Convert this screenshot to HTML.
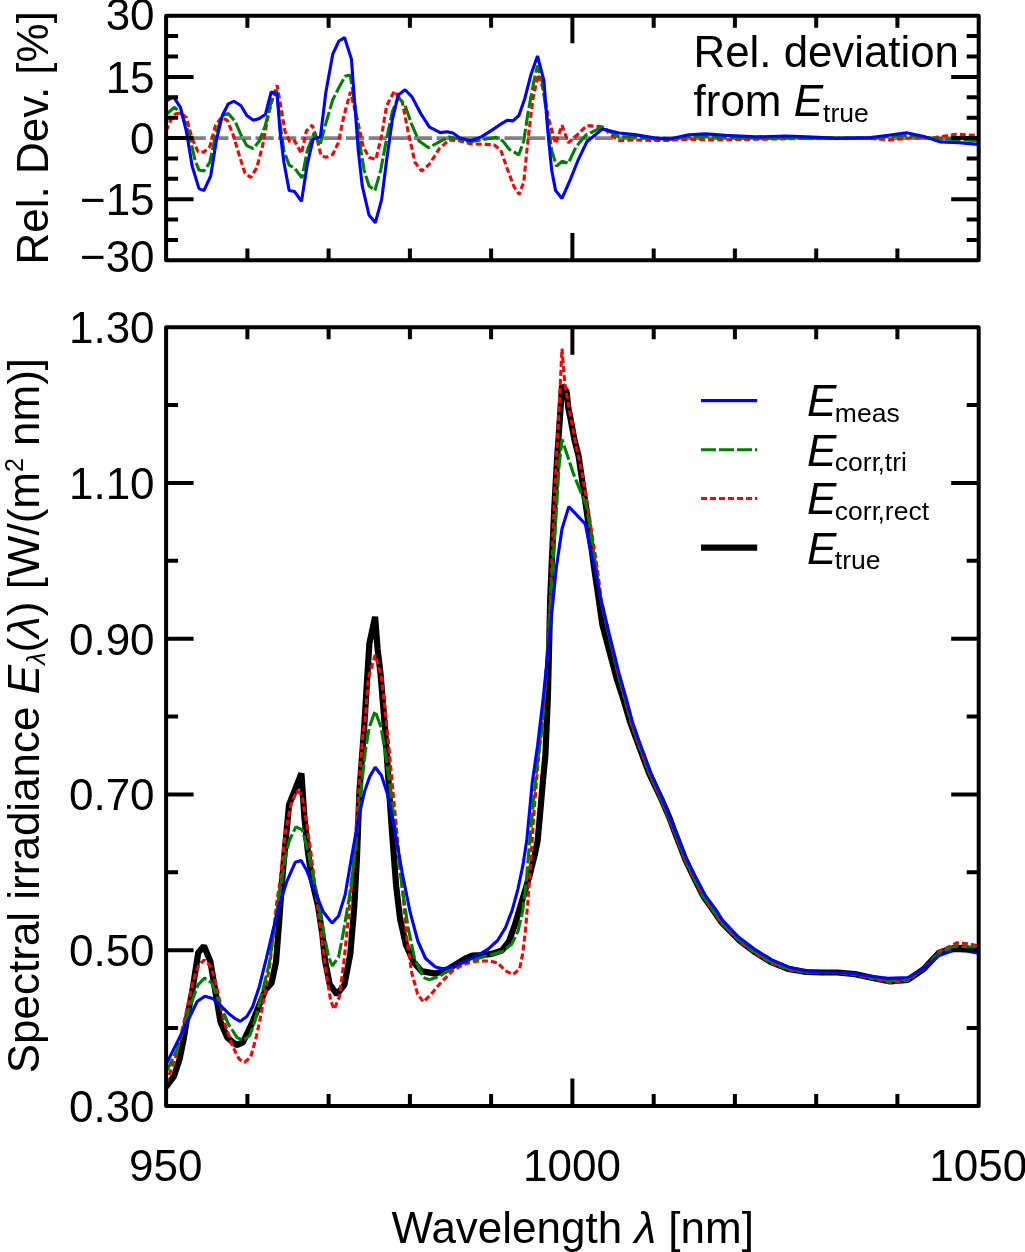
<!DOCTYPE html>
<html lang="en"><head><meta charset="utf-8"><title>Spectral irradiance and relative deviation</title>
<style>html,body{margin:0;padding:0;background:#fff}svg{display:block}text{font-family:"Liberation Sans", Arial, Helvetica, sans-serif;fill:#000}</style>
</head><body>
<svg width="1025" height="1252" viewBox="0 0 1025 1252">
<rect x="0" y="0" width="1025" height="1252" fill="#fff"/>
<defs>
<clipPath id="ct"><rect x="166.1" y="15.75" width="812.6" height="244.64999999999998"/></clipPath>
<clipPath id="cb"><rect x="166.1" y="327.2" width="812.6" height="778.7"/></clipPath>
</defs>
<g clip-path="url(#ct)" fill="none" stroke-linejoin="bevel">
<path d="M165 138.1 H978.7" stroke="#808080" stroke-width="3.8" stroke-dasharray="18.2 4.43"/>
<path d="M166.1 131 L170.5 120.5 L175.2 114 L180.5 112.8 L186.3 117.4 L192.2 138.9 L198 151.6 L203.9 152.1 L209.8 146.7 L215.6 125.2 L221.5 117.4 L227.3 120.3 L233.2 135 L239 154.5 L244.9 173 L250.7 177.5 L256.6 168.1 L262.4 146.7 L268.3 115.5 L273.2 96 L277.1 85.2 L281 107.7 L284.9 131.1 L289.8 141.8 L294.6 140.8 L301.5 153.5 L306.3 131.1 L312.2 125.2 L317.1 138.9 L321 155.5 L325.9 157.4 L332.7 154.5 L338.3 142.8 L344 115.5 L350.4 92 L357.3 119.4 L363.2 146.7 L369 157.4 L375.9 159.4 L381.7 135 L386.6 105.7 L394.4 91.1 L402.2 101.8 L408 131.1 L414.9 162.3 L421.7 171.1 L429.5 164.2 L439.3 148.6 L449 139.9 L458.8 140.8 L470.5 143.8 L482.2 144.3 L493.9 144.7 L500.7 150 L507.2 168.6 L513.9 186.5 L519.2 194.5 L523.8 181.8 L527.1 147.9 L530.5 118 L533.2 97.9 L538 74.5 L542.9 88.1 L548.8 119.4 L555.6 143.8 L562 125.2 L568.3 142.8 L577.1 135 L586.8 125.6 L602.4 126.8 L611.2 135 L619 140.8 L634.6 139.9 L654.1 140.4 L669.8 140.4 L687.3 139.2 L710 139.9 L755.6 139.3 L807 138.4 L870.6 138.4 L889.2 139.9 L910.7 138 L936.1 137.4 L956.4 134.2 L978.6 135.5" stroke="#ff0000" stroke-width="3.1" stroke-dasharray="6 3"/>
<path d="M166.1 114.5 L174.6 107.3 L181.5 113.5 L189.3 135 L195.1 160.3 L199 170.1 L203.9 171.1 L209.8 162.3 L215.6 135 L222.4 115.5 L228.3 113.5 L235.1 121.3 L241 135 L246.8 145.7 L253.3 148.6 L259.5 140.8 L265.4 125.2 L271.2 101.8 L276.7 90.1 L280 123.3 L283.9 150.6 L289.2 165.2 L294.6 168.1 L302 177.9 L307.3 150.6 L314.1 133 L320 144.7 L325.9 123.3 L332.7 99.9 L338.7 88 L345 76.2 L350.2 74.9 L354.6 101.8 L359.3 140.8 L364.1 170.1 L369 185.7 L374.9 190.6 L380.7 170.1 L386.6 138.9 L392.4 111.6 L398.3 96.9 L405.1 105.7 L412 125.2 L418.8 140.8 L428.5 147.7 L439.3 141.8 L449 136.9 L458.8 138.9 L470.5 141.8 L481.2 139.9 L495.9 137.3 L502.7 140.9 L509.5 149.5 L518.8 154.9 L523.8 140.8 L528.2 111.6 L534.1 80.3 L537.5 65.7 L542 80.3 L546.8 115.5 L551.7 150.6 L556.6 166.2 L562 161.3 L568.3 163.3 L576.1 146.7 L585.9 135 L602.4 127.2 L619 136.9 L634.6 136.9 L654.1 138.9 L669.8 139.3 L687.3 136.5 L710 136.9 L755.6 138.2 L807 137.8 L870.6 138 L906.3 135.5 L925 137.2 L941.2 138.7 L978.6 140.6" stroke="#008000" stroke-width="3.1" stroke-dasharray="15 3"/>
<path d="M166.1 100.8 L173.7 96.9 L180.5 107.7 L186.3 131.1 L192.2 166.2 L199 188.6 L203.9 190.6 L210.7 176 L216.6 138.9 L222.4 115.5 L228.3 103.8 L234.1 101.2 L241 105.7 L246.8 115.5 L253.3 120.3 L259.5 118.4 L265.4 114.5 L271.2 92 L277.1 94 L280 131.1 L283.9 162.3 L289.2 190.6 L294.6 191.6 L301.5 201.3 L307.3 164.2 L313.2 138.9 L320.4 136.9 L325.9 92 L332.8 54 L338.7 41.3 L344.5 37.6 L351.4 58.9 L354.6 101.8 L358.3 150.6 L362.2 185.7 L369 215 L375.3 222.8 L381.7 199.4 L386.6 160.3 L392.4 119.4 L398.3 95 L405.1 89.7 L412 96.9 L420.7 113.5 L429.5 127.2 L440.2 132.6 L447.1 131.7 L452.9 133 L459.8 137.9 L470.5 140.8 L481.2 136.9 L492 130.1 L500.7 124.2 L507.2 120.3 L513 120.9 L518.9 115.5 L524.7 98.9 L531 74.5 L537.5 56 L543.9 80.3 L547.8 131.1 L551.7 170.1 L555.6 190.6 L562 198.4 L570.2 179.9 L578 160.3 L586.8 141.8 L602.4 129.1 L619 133 L634.6 134.6 L654.1 137.9 L669.8 138.9 L689 134.8 L705.7 133.9 L725.4 135.4 L755.6 136.9 L785.9 136 L807 136.9 L837.3 138.4 L870.6 137.6 L888.7 135.2 L906.5 132.8 L924 136.5 L940 141.9 L958.6 142.6 L978.6 144.4" stroke="#0000ff" stroke-width="3.1"/>
</g>
<g clip-path="url(#cb)" fill="none" stroke-linejoin="bevel">
<path d="M166.1 1087 L174 1076.1 L179.8 1058.5 L183.7 1038.9 L186.9 1019.4 L192 992.7 L198.3 952.6 L204 946 L210.4 961.4 L215.6 992.7 L220.5 1022 L227.3 1037.6 L236.5 1045.2 L242.9 1042.4 L251.7 1023.9 L259.5 1004.4 L265.4 989.8 L271.6 983 L276.1 961.5 L279.4 918.5 L282 882 L284.2 857.1 L289 805 L301.4 773.4 L304.5 818.5 L307.6 849.3 L312 880.5 L318 905.9 L322.4 935.1 L325 960.5 L329.8 984.5 L337 994.3 L344.4 984.9 L350.3 954 L354.3 906.5 L357 857.1 L359.4 792 L364.2 727.1 L367.2 678.3 L369.4 643.5 L375.1 616.8 L377.6 649 L380.6 674.4 L384.9 727.1 L388.6 782 L392 832 L396.2 886.3 L400.1 919 L406 945 L413.8 962.5 L421.5 971.1 L435.1 973.6 L444.9 971.1 L456.6 963.9 L466.3 958 L472.2 955.5 L482 955.1 L491.7 953.9 L501.9 950.5 L508.8 941.7 L515.1 924.2 L522 900.8 L529.3 876.4 L534.7 855 L537.6 841.2 L540.5 809.3 L543 780 L545.4 755.1 L547.9 696.6 L549.3 638 L550.2 599 L551.6 566 L554.4 505.6 L556.9 462 L559.9 417.8 L561.9 388.8 L562.2 385.4 L566.6 391.7 L568.4 408.3 L570.4 418 L574.5 440 L578.6 456 L583 486.1 L587.3 515.4 L591 544.6 L594 567 L598.7 599 L602.3 624.4 L608.7 648.8 L616.5 678 L624.3 702.4 L630.1 722 L636.3 739 L649 773.2 L662.3 801.2 L669.5 817.9 L673.7 829.3 L685.5 860 L694.1 878 L703.3 896.2 L714.6 912.2 L721.7 922.6 L739.8 940.7 L755.4 952.4 L771 962.2 L788.5 969 L806.1 972 L821.7 972.5 L837.3 972.5 L855.1 974.1 L872.7 978 L890.2 981.4 L907.8 980 L923.4 969.3 L939 952.7 L954.6 947.8 L966.3 948.2 L978.6 950.7" stroke="#000" stroke-width="6.2"/>
<path d="M166.1 1083.5 L175.6 1057 L185.4 1016.1 L193.2 981 L199 964.4 L204.4 960 L210.7 966.3 L216.6 986.8 L224.4 1022 L232.2 1045.4 L239 1059 L244.6 1062.3 L250.7 1057.1 L256.6 1035.6 L259.5 1022 L265.4 990.7 L270.2 962.4 L273.7 929.3 L277.1 900 L280.2 880.5 L285.1 833.7 L291 804.4 L296.8 791.1 L301.7 794.6 L306.6 822 L311.5 857.1 L317 902 L322.1 941 L326.8 977.1 L330.7 1000.5 L334.2 1009.3 L339.5 996.6 L344.4 957.6 L349 911 L352.8 872 L356.9 818 L360.2 769.3 L362.8 735 L365.4 717.3 L368.3 678.3 L375.1 654.9 L381 674.4 L384.9 707.6 L388.8 746.6 L392.6 788 L397.3 837.6 L403.2 896.1 L406.5 936 L411.7 972.7 L417.6 994.1 L423.4 1002 L431.2 994.1 L441 982.4 L452.7 970.7 L464.4 963.9 L478 961 L489.8 961 L497.6 962.9 L505.4 970.7 L512.7 974.7 L519.6 969 L522.8 953 L525.8 927 L528.6 892 L531.2 856 L534.2 809.3 L536.8 778 L540 740 L545 690 L549 630 L551.6 567 L554.1 505.6 L557.1 447.1 L559.6 398.3 L562 348.5 L564.9 384.6 L569.8 412 L575.6 443.2 L581.5 470.5 L586.3 497.8 L591.2 529 L595.1 554.4 L598 573.9 L601.2 599 L608.8 634.1 L617.8 673.2 L625 700 L630.8 722 L636.6 739 L649 773.2 L661.6 801.2 L673.2 829.3 L685 860 L693.7 878 L702.9 896.4 L714.2 912.4 L721.7 923.2 L739.8 941.5 L755.4 953.2 L771 963 L788.5 969.6 L806.1 972.4 L821.7 972.8 L837.3 972.8 L855.1 974.6 L872.7 978.8 L891.2 982.5 L907.8 980.5 L923.4 969.3 L939 951.7 L956.6 942.9 L968.3 943.9 L978.6 945.9" stroke="#ff0000" stroke-width="3.1" stroke-dasharray="6 3"/>
<path d="M166.1 1072.4 L177.6 1048.5 L189.3 1008.3 L198 984.9 L204.5 978.1 L211.7 982.9 L218.5 1000.5 L228.3 1023.9 L237.1 1037.6 L243 1040.4 L249.8 1035.6 L254.6 1022 L263.4 987.8 L269.3 963.4 L274.1 929.3 L278.5 900 L284.9 860 L289 841.5 L295.9 826.8 L302.3 829.8 L308.5 853.2 L316.3 892.2 L324.1 935.1 L328.8 957.6 L332.4 965.8 L338.6 957 L343.5 931.7 L349.5 896.1 L355.4 849.3 L361.2 788.8 L365.4 750.5 L369.3 727.1 L375.1 711.1 L381 727.1 L385.9 756.3 L390.2 788 L396.3 837.6 L402.2 888.3 L408 927 L414.5 958 L423.4 977.6 L429.3 979.8 L439 976.6 L450.7 968.8 L462.4 962.9 L478 958.5 L491.7 954.4 L502.5 951.4 L511.6 944.2 L518 931.2 L522.6 911.5 L525.8 886 L528.8 852 L533.7 799.5 L537.2 765 L542.4 725.9 L548.3 638 L552.6 567 L556.1 515.4 L559 466.6 L562 439.3 L567.8 456.8 L573.7 474.4 L581.5 493.9 L586.3 505.6 L591.2 534.9 L596 567 L600.6 599 L608.6 634.1 L618 673.2 L625.4 700 L631.2 722 L637 739 L649.4 773.2 L662 801.2 L673.5 829.3 L685.3 860 L694 878 L703.1 896.2 L714.4 912.2 L721.7 922.8 L739.8 940.7 L755.4 952.4 L771 962.2 L788.5 969 L806.1 972 L821.7 972.5 L837.3 972.5 L855.1 974.1 L872.7 978 L890.2 981 L907.8 979.3 L923.4 969 L939 953 L956.6 945.9 L978.6 948.2" stroke="#008000" stroke-width="3.1" stroke-dasharray="15 3"/>
<path d="M166.1 1064.2 L177 1042.6 L188.4 1019.8 L197.1 1001.6 L204.9 996.2 L212.7 998.4 L220.5 1005.5 L228.3 1013.2 L235.1 1018.6 L240.3 1021.3 L246.8 1016.5 L252.7 1006.6 L259.5 985.9 L266.3 958.5 L273.2 929.3 L279 906.2 L286.8 881.5 L295.2 862.3 L301.1 860.6 L306.6 870.2 L314.4 890.2 L323.2 911.7 L332.1 923.1 L338.6 916 L345.2 894.6 L351.6 857.1 L358.6 818 L364.7 791 L370 776.1 L375.2 767.2 L381.5 775.5 L387.6 794.6 L394.4 827.8 L402.2 872.7 L410 911.7 L417.8 941 L425.6 958.5 L435.4 967 L443 968.8 L452.7 966.8 L464.4 962 L478 955.1 L487.8 949.3 L497.6 940.5 L505.4 927.8 L512.2 910.2 L518 888.8 L522.9 865.4 L526.8 840 L528.8 819 L532.2 783 L537.6 745.4 L543.4 696.6 L548.3 647.8 L553.2 599 L556.4 567 L562 529 L568.8 506.6 L585.4 524.1 L589.3 544.6 L594.5 567 L600.8 599 L609.3 634.1 L619 673.2 L626.6 700 L632.5 722 L638.3 739 L651 773.2 L663.3 801.2 L674.6 829.3 L686.8 859.5 L696.1 878 L705 894.8 L717.6 912.2 L722.2 919.9 L738.1 936.8 L755.7 949.9 L772 959.9 L788.4 966.9 L806 970.9 L821.7 972.3 L837.3 972.3 L855.1 973.6 L872.7 976.5 L888.3 978.4 L907.8 977.5 L923.4 969 L939 955.6 L954.6 950.1 L966.3 950.9 L978.6 953.3" stroke="#0000ff" stroke-width="3.1"/>
</g>
<path d="M247.4 15.8 v12 M247.4 260.4 v-12 M328.6 15.8 v12 M328.6 260.4 v-12 M409.9 15.8 v12 M409.9 260.4 v-12 M491.1 15.8 v12 M491.1 260.4 v-12 M572.4 15.8 v27.5 M572.4 260.4 v-27.5 M653.7 15.8 v12 M653.7 260.4 v-12 M734.9 15.8 v12 M734.9 260.4 v-12 M816.2 15.8 v12 M816.2 260.4 v-12 M897.4 15.8 v12 M897.4 260.4 v-12 M166.1 199.2 h27.5 M978.7 199.2 h-27.5 M166.1 138.1 h27.5 M978.7 138.1 h-27.5 M166.1 76.9 h27.5 M978.7 76.9 h-27.5 M166.1 240 h12 M978.7 240 h-12 M166.1 219.6 h12 M978.7 219.6 h-12 M166.1 178.8 h12 M978.7 178.8 h-12 M166.1 158.5 h12 M978.7 158.5 h-12 M166.1 117.7 h12 M978.7 117.7 h-12 M166.1 97.3 h12 M978.7 97.3 h-12 M166.1 56.5 h12 M978.7 56.5 h-12 M166.1 36.1 h12 M978.7 36.1 h-12" stroke="#000" stroke-width="4" fill="none"/>
<rect x="166.1" y="15.75" width="812.6" height="244.6" fill="none" stroke="#000" stroke-width="4" stroke-linejoin="round"/>
<path d="M247.4 327.2 v12 M247.4 1105.9 v-12 M328.6 327.2 v12 M328.6 1105.9 v-12 M409.9 327.2 v12 M409.9 1105.9 v-12 M491.1 327.2 v12 M491.1 1105.9 v-12 M572.4 327.2 v27.5 M572.4 1105.9 v-27.5 M653.7 327.2 v12 M653.7 1105.9 v-12 M734.9 327.2 v12 M734.9 1105.9 v-12 M816.2 327.2 v12 M816.2 1105.9 v-12 M897.4 327.2 v12 M897.4 1105.9 v-12 M166.1 950.2 h27.5 M978.7 950.2 h-27.5 M166.1 794.4 h27.5 M978.7 794.4 h-27.5 M166.1 638.7 h27.5 M978.7 638.7 h-27.5 M166.1 482.9 h27.5 M978.7 482.9 h-27.5 M166.1 1028 h12 M978.7 1028 h-12 M166.1 872.3 h12 M978.7 872.3 h-12 M166.1 716.6 h12 M978.7 716.6 h-12 M166.1 560.8 h12 M978.7 560.8 h-12 M166.1 405.1 h12 M978.7 405.1 h-12" stroke="#000" stroke-width="4" fill="none"/>
<rect x="166.1" y="327.2" width="812.6" height="778.7" fill="none" stroke="#000" stroke-width="4" stroke-linejoin="round"/>
<g font-size="44">
<text x="154.6" y="30.3" text-anchor="end">30</text>
<text x="154.6" y="92.9" text-anchor="end">15</text>
<text x="154.6" y="154.1" text-anchor="end">0</text>
<text x="154.6" y="215.2" text-anchor="end">−15</text>
<text x="154.6" y="271.6" text-anchor="end">−30</text>
<text x="154.6" y="1121.8" text-anchor="end">0.30</text>
<text x="154.6" y="966.1" text-anchor="end">0.50</text>
<text x="154.6" y="810.3" text-anchor="end">0.70</text>
<text x="154.6" y="654.6" text-anchor="end">0.90</text>
<text x="154.6" y="498.8" text-anchor="end">1.10</text>
<text x="154.6" y="343.1" text-anchor="end">1.30</text>
<text x="165.7" y="1180.9" text-anchor="middle">950</text>
<text x="572" y="1180.9" text-anchor="middle">1000</text>
<text x="978.3" y="1180.9" text-anchor="middle">1050</text>
</g>
<text x="572.7" y="1242.6" font-size="44" text-anchor="middle">Wavelength <tspan font-style="italic">λ</tspan> [nm]</text>
<text transform="translate(48.4 137.8) rotate(-90)" font-size="44" text-anchor="middle">Rel. Dev. [%]</text>
<text transform="translate(38.8 715.6) rotate(-90)" font-size="44" text-anchor="middle">Spectral irradiance <tspan font-style="italic">E</tspan><tspan font-size="25" dy="5.8" font-style="italic">λ</tspan><tspan dy="-5.8">(</tspan><tspan font-style="italic">λ</tspan>) [W/(m<tspan font-size="25" dy="-15.5">2</tspan><tspan dy="15.5"> nm)]</tspan></text>
<text x="693.6" y="66.8" font-size="43.8">Rel. deviation</text>
<text x="693.5" y="115.9" font-size="44">from <tspan font-style="italic">E</tspan><tspan font-size="26.5" dy="5.8">true</tspan></text>
<path d="M701 400.6 H757.2" stroke="#0000ff" stroke-width="3.1" fill="none"/>
<text x="807" y="416.4" font-size="44"><tspan font-style="italic">E</tspan><tspan font-size="26.5" dy="5.2" dx="-1.5 0 0 0">meas</tspan></text>
<path d="M701 449.7 H757.2" stroke="#008000" stroke-width="3.1" fill="none" stroke-dasharray="15 3"/>
<text x="807" y="465.5" font-size="44"><tspan font-style="italic">E</tspan><tspan font-size="26.5" dy="5.2" dx="-1.5 0 0 0 -1.6 0 0 0">corr,tri</tspan></text>
<path d="M701 498.5 H757.2" stroke="#ff0000" stroke-width="3.1" fill="none" stroke-dasharray="6 3"/>
<text x="807" y="514.3" font-size="44"><tspan font-style="italic">E</tspan><tspan font-size="26.5" dy="5.2" dx="-1.5 0 0 0 -1.6 0 0 0 0">corr,rect</tspan></text>
<path d="M701 547.7 H757.2" stroke="#000" stroke-width="6.2" fill="none"/>
<text x="807" y="563.5" font-size="44"><tspan font-style="italic">E</tspan><tspan font-size="26.5" dy="5.2" dx="-1.5 0 0 0">true</tspan></text>
</svg>
</body></html>
